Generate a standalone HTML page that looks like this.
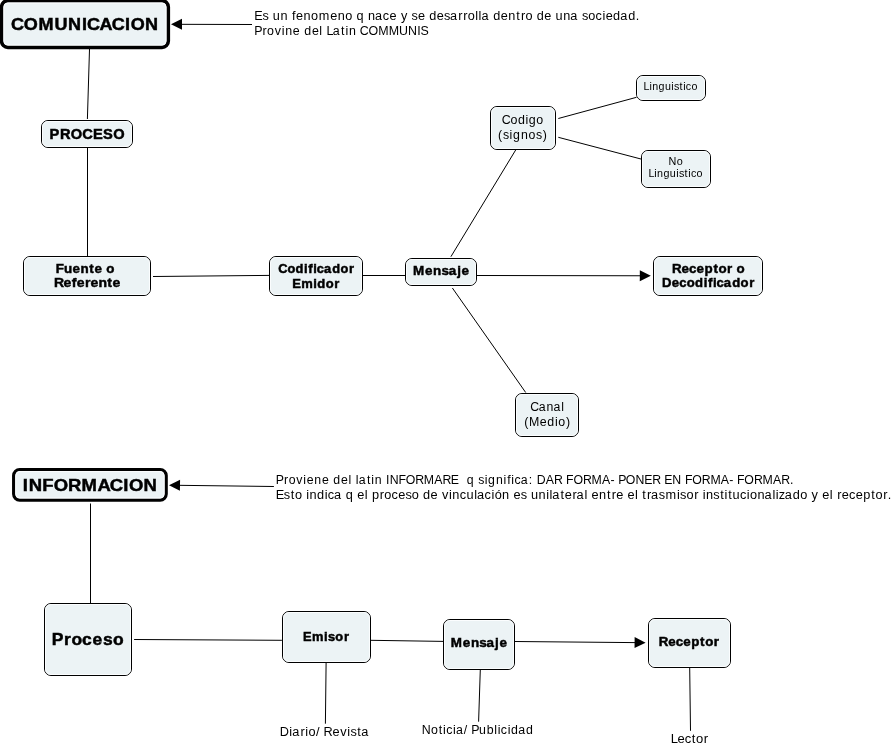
<!DOCTYPE html>
<html><head><meta charset="utf-8"><title>Mapa conceptual</title>
<style>html,body{margin:0;padding:0;background:#fff;}svg{display:block;will-change:transform;}text{font-family:"Liberation Sans",sans-serif;fill:#000;}.b{font-weight:bold;}</style></head><body>
<svg width="894" height="746" viewBox="0 0 894 746">
<rect x="0" y="0" width="894" height="746" fill="#fff"/>
<g stroke="#000" stroke-width="1" fill="none">
<line x1="89.5" y1="49" x2="87.4" y2="119"/>
<line x1="87.5" y1="148" x2="87.5" y2="256"/>
<line x1="153" y1="276.5" x2="269" y2="275.4"/>
<line x1="362.7" y1="275.5" x2="405.3" y2="275.5"/>
<line x1="476.9" y1="275.5" x2="640.8" y2="275.78"/>
<line x1="450.9" y1="256.7" x2="515.8" y2="149.8"/>
<line x1="558.3" y1="118.5" x2="636.5" y2="97.3"/>
<line x1="558.3" y1="137.3" x2="641.3" y2="159.1"/>
<line x1="452.4" y1="288" x2="525.7" y2="392.5"/>
<line x1="252" y1="24.5" x2="181" y2="24.32"/>
<line x1="90.5" y1="503.5" x2="90.5" y2="603"/>
<line x1="273.9" y1="486.5" x2="179" y2="485.32"/>
<line x1="134.1" y1="639.5" x2="281.9" y2="640.3"/>
<line x1="370.7" y1="640.3" x2="443.1" y2="641.4"/>
<line x1="514.7" y1="641.5" x2="635.6" y2="642.61"/>
<line x1="326.1" y1="663" x2="325.4" y2="723.7"/>
<line x1="480.3" y1="669.6" x2="478.6" y2="721.7"/>
<line x1="689.7" y1="667.4" x2="690.5" y2="730.8"/>
</g>
<g fill="#000" stroke="none"><polygon points="650.8,275.8 639.79,281.28 639.81,270.28"/><polygon points="171,24.3 182.01,18.83 181.99,29.83"/><polygon points="169,485.2 180.07,479.84 179.93,490.84"/><polygon points="645.6,642.7 634.55,648.1 634.65,637.1"/></g>
<rect x="1.6" y="0.7" width="166.7" height="46.7" rx="6.3" ry="6.3" fill="#ecf3f5" stroke="#000" stroke-width="3.6"/>
<rect x="3.9" y="3" width="162.1" height="42.1" rx="4" ry="4" fill="none" stroke="#fbfdfe" stroke-width="1"/>
<rect x="41.5" y="120.5" width="91" height="27" rx="6.5" ry="6.5" fill="#ecf3f5" stroke="#000" stroke-width="1"/>
<rect x="42.5" y="121.5" width="89" height="25" rx="5.5" ry="5.5" fill="none" stroke="#fbfdfe" stroke-width="1"/>
<rect x="23.5" y="256.5" width="127" height="39" rx="6.5" ry="6.5" fill="#ecf3f5" stroke="#000" stroke-width="1"/>
<rect x="24.5" y="257.5" width="125" height="37" rx="5.5" ry="5.5" fill="none" stroke="#fbfdfe" stroke-width="1"/>
<rect x="269.5" y="256.5" width="93" height="39" rx="6.5" ry="6.5" fill="#ecf3f5" stroke="#000" stroke-width="1"/>
<rect x="270.5" y="257.5" width="91" height="37" rx="5.5" ry="5.5" fill="none" stroke="#fbfdfe" stroke-width="1"/>
<rect x="405.5" y="258.5" width="71" height="27" rx="6.5" ry="6.5" fill="#ecf3f5" stroke="#000" stroke-width="1"/>
<rect x="406.5" y="259.5" width="69" height="25" rx="5.5" ry="5.5" fill="none" stroke="#fbfdfe" stroke-width="1"/>
<rect x="653.5" y="256.5" width="109" height="39" rx="6.5" ry="6.5" fill="#ecf3f5" stroke="#000" stroke-width="1"/>
<rect x="654.5" y="257.5" width="107" height="37" rx="5.5" ry="5.5" fill="none" stroke="#fbfdfe" stroke-width="1"/>
<rect x="490.5" y="106.5" width="65" height="43" rx="6.5" ry="6.5" fill="#ecf3f5" stroke="#000" stroke-width="1"/>
<rect x="491.5" y="107.5" width="63" height="41" rx="5.5" ry="5.5" fill="none" stroke="#fbfdfe" stroke-width="1"/>
<rect x="636.5" y="75.5" width="69" height="25" rx="6.5" ry="6.5" fill="#ecf3f5" stroke="#000" stroke-width="1"/>
<rect x="637.5" y="76.5" width="67" height="23" rx="5.5" ry="5.5" fill="none" stroke="#fbfdfe" stroke-width="1"/>
<rect x="641.5" y="150.5" width="69" height="37" rx="6.5" ry="6.5" fill="#ecf3f5" stroke="#000" stroke-width="1"/>
<rect x="642.5" y="151.5" width="67" height="35" rx="5.5" ry="5.5" fill="none" stroke="#fbfdfe" stroke-width="1"/>
<rect x="515.5" y="393.5" width="63" height="43" rx="6.5" ry="6.5" fill="#ecf3f5" stroke="#000" stroke-width="1"/>
<rect x="516.5" y="394.5" width="61" height="41" rx="5.5" ry="5.5" fill="none" stroke="#fbfdfe" stroke-width="1"/>
<rect x="13.65" y="469.5" width="152.55" height="30.6" rx="6" ry="6" fill="#ecf3f5" stroke="#000" stroke-width="3.2"/>
<rect x="15.75" y="471.6" width="148.35" height="26.4" rx="3.9" ry="3.9" fill="none" stroke="#fbfdfe" stroke-width="1"/>
<rect x="44.5" y="603.5" width="87" height="72" rx="6.5" ry="6.5" fill="#ecf3f5" stroke="#000" stroke-width="1"/>
<rect x="45.5" y="604.5" width="85" height="70" rx="5.5" ry="5.5" fill="none" stroke="#fbfdfe" stroke-width="1"/>
<rect x="282.5" y="611.5" width="88" height="51" rx="6.5" ry="6.5" fill="#ecf3f5" stroke="#000" stroke-width="1"/>
<rect x="283.5" y="612.5" width="86" height="49" rx="5.5" ry="5.5" fill="none" stroke="#fbfdfe" stroke-width="1"/>
<rect x="443.5" y="619.5" width="71" height="50" rx="6.5" ry="6.5" fill="#ecf3f5" stroke="#000" stroke-width="1"/>
<rect x="444.5" y="620.5" width="69" height="48" rx="5.5" ry="5.5" fill="none" stroke="#fbfdfe" stroke-width="1"/>
<rect x="648.5" y="618.5" width="82" height="49" rx="6.5" ry="6.5" fill="#ecf3f5" stroke="#000" stroke-width="1"/>
<rect x="649.5" y="619.5" width="80" height="47" rx="5.5" ry="5.5" fill="none" stroke="#fbfdfe" stroke-width="1"/>
<text transform="matrix(1.0672,0,0,1,0,0)" x="10.36 22.36 36.13 51.04 63.77 76.86 81.42 93.3 104.71 117.23 122.45 135.95" y="30" font-size="16.91" class="b" stroke="#000" stroke-width="0.47" xml:space="preserve">COMUNICACION</text>
<text transform="matrix(1.0009,0,0,1,0,0)" x="254.02 262.15 268.52 272.45 280.13 287.6 291.79 295.71 303.23 310.7 318.52 329.84 337.35 344.83 352.18 356.08 363.65 367.64 374.66 382.32 389.15 396.5 400.57 407.45 411.18 417.6 424.95 428.85 436.47 443.73 449.65 457.92 462.86 467.38 474.85 478.19 480.98 488.8 492.69 500.31 507.83 515.71 520.46 524.97 532.33 536.23 543.85 551.2 555.14 562.82 569.84 577.66 581.39 587.76 594.97 601.86 605.13 612.56 619.68 627.58 635.14" y="20" font-size="12.68" xml:space="preserve">Es un fenomeno q nace y se desarrolla dentro de una sociedad.</text>
<text transform="matrix(0.9800,0,0,1,0,0)" x="259.47 267.91 272.58 280.39 287.55 291.1 298.83 306.35 310.41 318.25 325.88 329.22 333.14 339.66 348.08 352.62 356.17 363.8 367.21 376.13 386 396.68 407.26 416.43 425.71 429.06" y="35" font-size="12.68" xml:space="preserve">Provine del Latin COMMUNIS</text>
<text transform="matrix(0.9898,0,0,1,0,0)" x="50.13 60.56 71.61 83.18 93.89 104.1 114.49" y="139" font-size="14.79" class="b" stroke="#000" stroke-width="0.51" xml:space="preserve">PROCESO</text>
<text transform="matrix(1.0571,0,0,1,0,0)" x="52.69 60.6 68.62 76.08 84.4 89.41 96.94 100.59" y="273" font-size="12.68" class="b" stroke="#000" stroke-width="0.47" xml:space="preserve">Fuente o</text>
<text transform="matrix(1.1036,0,0,1,0,0)" x="48.9 57.56 65.02 69.48 76.98 82.02 89.19 97.26 102.03" y="287" font-size="12.68" class="b" stroke="#000" stroke-width="0.45" xml:space="preserve">Referente</text>
<text transform="matrix(1.0117,0,0,1,0,0)" x="274.97 284.11 292.2 300.55 304.76 309.6 313.07 320.22 328.33 336.56 344.98" y="273" font-size="12.68" class="b" stroke="#000" stroke-width="0.49" xml:space="preserve">Codificador</text>
<text transform="matrix(1.0249,0,0,1,0,0)" x="285.23 293.84 305.7 309.62 317.77 326.12" y="288" font-size="12.68" class="b" stroke="#000" stroke-width="0.49" xml:space="preserve">Emidor</text>
<text transform="matrix(1.0584,0,0,1,0,0)" x="390.12 401.47 409.22 417.16 424 431.93 436.13" y="275" font-size="12.68" class="b" stroke="#000" stroke-width="0.47" xml:space="preserve">Mensaje</text>
<text transform="matrix(1.0543,0,0,1,0,0)" x="637.41 646.43 653.43 660.7 668.3 676.65 681.48 689.64 694.94 698.64" y="273" font-size="12.68" class="b" stroke="#000" stroke-width="0.47" xml:space="preserve">Receptor o</text>
<text transform="matrix(1.0342,0,0,1,0,0)" x="640.01 649.64 656.84 664.08 672.11 680.41 684.58 689.39 692.82 699.91 707.96 716.12 724.49" y="287" font-size="12.68" class="b" stroke="#000" stroke-width="0.48" xml:space="preserve">Decodificador</text>
<text transform="matrix(0.9835,0,0,1,0,0)" x="510.07 519.13 526.6 534.32 537.65 545.27" y="124" font-size="12.68" xml:space="preserve">Codigo</text>
<text transform="matrix(0.9745,0,0,1,0,0)" x="511.06 516.15 522.86 526.41 534.51 542.33 549.91 556.94" y="139" font-size="12.68" xml:space="preserve">(signos)</text>
<text transform="matrix(1.0118,0,0,1,0,0)" x="636.12 641.83 644.61 650.84 657.18 663.49 666.06 671.67 675.33 677.85 683.44" y="90" font-size="10.57" xml:space="preserve">Linguistico</text>
<text transform="matrix(1.0259,0,0,1,0,0)" x="651.64 659.55" y="165" font-size="10.57" xml:space="preserve">No</text>
<text transform="matrix(1.0176,0,0,1,0,0)" x="637.22 642.93 645.71 651.93 658.27 664.59 667.16 672.77 676.42 678.94 684.54" y="177" font-size="10.57" xml:space="preserve">Linguistico</text>
<text transform="matrix(0.9700,0,0,1,0,0)" x="546.68 555.36 563.48 570.62 578.65" y="411" font-size="12.68" xml:space="preserve">Canal</text>
<text transform="matrix(0.9785,0,0,1,0,0)" x="535.72 540.65 551.59 559.24 567.1 570.5 578.45" y="426" font-size="12.68" xml:space="preserve">(Medio)</text>
<text transform="matrix(1.0937,0,0,1,0,0)" x="20.9 26.39 38.74 49.25 62.24 74.63 89.1 100.38 112.81 117.93 131.28" y="491" font-size="16.91" class="b" stroke="#000" stroke-width="0.46" xml:space="preserve">INFORMACION</text>
<text transform="matrix(0.9700,0,0,1,0,0)" x="284.32 292.84 297.59 305.5 312.72 316.22 324.06 331.9 339.49 343.62 351.57 359.27 362.65 366.74 369.75 378.25 382.85 386.47 394.18 398.02 401.74 410.74 418.25 428.1 436.97 447.72 456.23 464.66 473.12 477.11 481.24 489.07 493.01 499.7 503.22 511.29 519.11 522.86 527.01 530.29 536.91 545.1 549.2 553.24 562.68 571.2 580.16 583.64 591.14 601 609.86 620.61 629.29 633.9 637.43 645.23 655.21 664.19 672.4 681.37 684.82 693.16 702.67 706.15 713.65 723.51 732.37 743.13 751.8 756.41 759.89 767.39 777.25 786.11 796.87 805.38 814.34" y="484" font-size="12.68" xml:space="preserve">Proviene del latin INFORMARE  q significa: DAR FORMA- PONER EN FORMA- FORMAR.</text>
<text transform="matrix(1.0062,0,0,1,0,0)" x="274.06 282.12 288.85 293.11 300.41 304.32 307.66 315.13 322.76 325.79 332.05 339.82 343.66 351.18 355 362.42 365.62 369.61 377.41 381.87 389.01 395.77 402.96 409.27 416.58 420.42 427.97 435.27 439.29 446.24 449.58 456.82 463.64 471.22 473.96 481.56 488.4 491.59 499.04 506.45 510.27 517.46 523.79 527.67 535.28 542.81 546.12 548.86 557.04 561.33 569.07 573.08 580.96 584.16 587.98 595.43 603.26 607.95 612.46 619.76 623.58 631 634.2 638.4 643.1 647.11 654.76 661.51 672.82 675.9 682.22 689.96 694.43 698.34 701.68 708.98 715.71 720.1 723.7 728.06 735.35 742.2 745.38 752.83 759.79 767.67 770.99 774.06 779.98 787.8 795.31 802.61 806.62 813.46 817.28 824.7 827.9 832.12 836.62 843.76 850.51 858.02 865.8 870.05 877.79 882.26" y="499" font-size="12.68" xml:space="preserve">Esto indica q el proceso de vinculación es unilateral entre el trasmisor institucionalizado y el receptor.</text>
<text transform="matrix(1.0337,0,0,1,0,0)" x="49.95 62 69.17 79.4 89.56 99.71 109.22" y="645" font-size="16.91" class="b" stroke="#000" stroke-width="0.48" xml:space="preserve">Proceso</text>
<text transform="matrix(1.0138,0,0,1,0,0)" x="298.82 307.66 319.71 323.54 330.69 339.22" y="641" font-size="12.68" class="b" stroke="#000" stroke-width="0.49" xml:space="preserve">Emisor</text>
<text transform="matrix(1.0584,0,0,1,0,0)" x="425.84 437.19 444.93 452.88 459.71 467.65 471.84" y="647" font-size="12.68" class="b" stroke="#000" stroke-width="0.47" xml:space="preserve">Mensaje</text>
<text transform="matrix(1.0517,0,0,1,0,0)" x="626.4 635.42 642.43 649.71 657.32 665.68 670.52 678.69" y="646" font-size="12.68" class="b" stroke="#000" stroke-width="0.48" xml:space="preserve">Receptor</text>
<text transform="matrix(1.0064,0,0,1,0,0)" x="277.97 287.49 290.31 298.63 303.28 306.56 314.08 318.05 321.57 330.4 338.06 345.1 348.26 355.1 359" y="736" font-size="12.68" xml:space="preserve">Diario/ Revista</text>
<text transform="matrix(0.9773,0,0,1,0,0)" x="431.48 440.94 448.87 453.39 456.59 463.62 466.54 474.62 478.67 482.1 490.2 498.15 505.82 509.26 512.46 519.48 522.92 530.24 538.33" y="734" font-size="12.68" xml:space="preserve">Noticia/ Publicidad</text>
<text transform="matrix(1.0271,0,0,1,0,0)" x="653.12 659.68 666.59 673.53 677.59 685.1" y="743" font-size="12.68" xml:space="preserve">Lector</text>
</svg></body></html>
